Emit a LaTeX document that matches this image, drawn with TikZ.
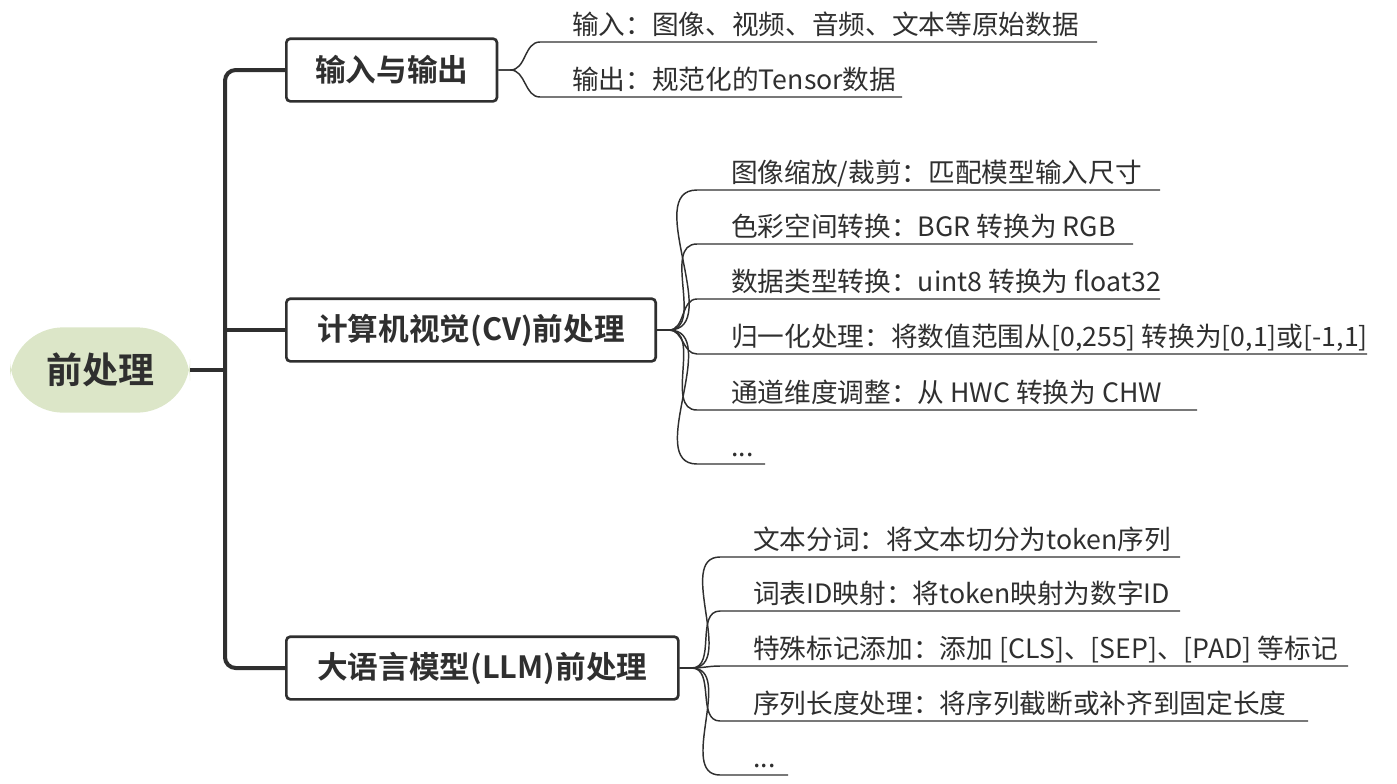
\documentclass[tikz,border=0pt]{standalone}
\usepackage{fontspec}
\setmainfont{Noto Sans CJK SC}
\newfontfamily\cjkbold{Noto Sans CJK SC Bold}
\definecolor{ink}{HTML}{2F2F2F}
\definecolor{rootfill}{HTML}{DCE6C8}
\begin{document}
\begin{tikzpicture}[x=0.75pt,y=-0.75pt,
  rootbox/.style={fill=rootfill,rounded corners=40pt,minimum width=135pt,minimum height=64pt,font=\cjkbold\fontsize{27}{30}\selectfont,text=ink,inner sep=0},
  topicbox/.style={draw=ink,line width=2pt,rounded corners=3pt,font=\cjkbold\fontsize{23}{26}\selectfont,text=ink,minimum height=47pt,inner xsep=0pt},
  leaftext/.style={anchor=base west,font=\fontsize{20}{24}\selectfont,text=ink,inner sep=0pt},
  trunk/.style={draw=ink,line width=3pt,rounded corners=8pt},
  twig/.style={draw=ink,line width=1.1pt}]
\useasboundingbox (0,0) rectangle (1397,783);
\node[rootbox] (root) at (100,370) {前处理};
\node[topicbox,anchor=west,minimum width=158pt] (io) at (285,70) {输入与输出};
\node[topicbox,anchor=west,minimum width=277pt] (cv) at (285,330) {计算机视觉(CV)前处理};
\node[topicbox,anchor=west,minimum width=294pt] (llm) at (285,668) {大语言模型(LLM)前处理};
\coordinate (jn) at (225,370);
\draw[trunk] (io.west) -| (225,370) |- (llm.west);
\draw[trunk] (root.east) -- (jn);
\draw[trunk,rounded corners=0pt] (225,330) -- (cv.west);
% IO leaves
\foreach \y/\xr/\t [count=\i] in {42/1097/{输入：图像、视频、音频、文本等原始数据}, 97/902/{输出：规范化的Tensor数据}}{
  \node[leaftext] (io\i) at (572,\y-8) {\t};
  \coordinate (ios\i) at (540,\y);
  \draw[twig] (io.east) -- ++(12,0) to[out=0,in=180] (ios\i) -- (\xr,\y);
}
% CV leaves
\foreach \y/\xr/\t [count=\i] in {190/1160/{图像缩放/裁剪：匹配模型输入尺寸}, 244/1133/{色彩空间转换：BGR 转换为 RGB}, 299/1160/{数据类型转换：uint8 转换为 float32}, 354/1367/{归一化处理：将数值范围从[0,255] 转换为[0,1]或[-1,1]}, 410/1197/{通道维度调整：从 HWC 转换为 CHW}, 464/765/{.{}.{}.}}{
  \node[leaftext] (cv\i) at (731,\y-8) {\t};
  \coordinate (cvs\i) at (697,\y);
  \draw[twig] (cv.east) -- ++(12,0) to[out=0,in=180] (cvs\i) -- (\xr,\y);
}
% LLM leaves
\foreach \y/\xr/\t [count=\i] in {557/1180/{文本分词：将文本切分为token序列}, 611/1180/{词表ID映射：将token映射为数字ID}, 666/1348/{特殊标记添加：添加 [CLS]、[SEP]、[PAD] 等标记}, 721/1308/{序列长度处理：将序列截断或补齐到固定长度}, 775/788/{.{}.{}.}}{
  \node[leaftext] (llm\i) at (753,\y-8) {\t};
  \coordinate (llms\i) at (720,\y);
  \draw[twig] (llm.east) -- ++(12,0) to[out=0,in=180] (llms\i) -- (\xr,\y);
}
\end{tikzpicture}
\end{document}
